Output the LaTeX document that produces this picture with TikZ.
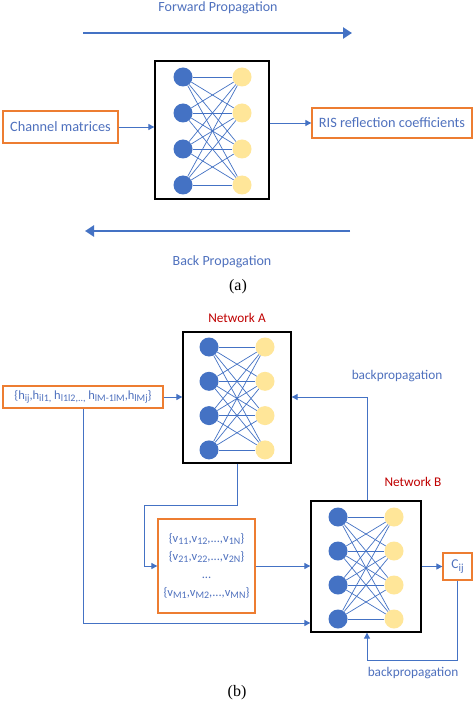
\documentclass[tikz,border=0pt]{standalone}
\usepackage{fontspec}
\setmainfont{Carlito}
\newfontfamily\serifcap{Liberation Serif}
\usetikzlibrary{arrows.meta}
\definecolor{lblue}{HTML}{4472C4}
\definecolor{tblue}{HTML}{4F71BE}
\definecolor{lyel}{HTML}{FFE699}
\definecolor{lorange}{HTML}{ED7D31}
\definecolor{dred}{HTML}{C00000}
\newcommand\sbx[1]{\raisebox{-0.35ex}{\scalebox{0.8}{#1}}}
\newcommand\drawnet[5]{%
  \foreach \i in {1,...,4}{%
    \node[bnode] (#1b\i) at (#2,{#4+(\i-1)*#5}) {};
    \node[ynode] (#1y\i) at (#3,{#4+(\i-1)*#5}) {};
  }
  \foreach \i in {1,...,4}{\foreach \j in {1,...,4}{\draw[nnline] (#1b\i) -- (#1y\j);}}
}
\begin{document}
\begin{tikzpicture}[x=1pt,y=-1pt,
  bnode/.style={circle,fill=lblue,inner sep=0pt,minimum size=19pt},
  ynode/.style={circle,fill=lyel,inner sep=0pt,minimum size=19pt},
  nnline/.style={draw=lblue,line width=0.7pt},
  netframe/.style={draw=black,line width=1.3pt,fill=white,inner sep=0pt},
  obox/.style={draw=lorange,line width=1.3pt,fill=white,inner sep=2pt,text=tblue},
  conn/.style={draw=lblue,line width=0.9pt,-{Triangle[length=6pt,width=6pt]}},
  bigarrow/.style={draw=lblue,line width=2.6pt,-{Triangle[length=9pt,width=11pt]}},
  lbl/.style={text=tblue,font=\fontsize{14}{16}\selectfont},
  lblb/.style={text=tblue,font=\fontsize{13.3}{15}\selectfont},
  netlbl/.style={text=dred,font=\fontsize{13.3}{15}\selectfont},
  captxt/.style={font=\serifcap\fontsize{16}{18}\selectfont}
]
\useasboundingbox[fill=white] (0,0) rectangle (474,703);

% ---------------- (a) ----------------
\node[lbl] (fwdtxt) at (218,8) {Forward Propagation};
\coordinate (f1) at (83,33);
\coordinate (f2) at (352,33);
\draw[bigarrow] (f1) -- (f2);

\node[netframe,minimum width=114pt,minimum height=138pt] (NN) at (212,130) {};
\drawnet{n}{183}{242}{77}{36}

\node[obox,minimum width=115pt,minimum height=32pt,font=\fontsize{14.3}{16}\selectfont] (CM) at (60.5,127) {Channel matrices};
\node[obox,minimum width=160pt,minimum height=30pt,font=\fontsize{14.3}{16}\selectfont] (RIS) at (392,123) {RIS reflection coefficients};
\draw[conn] (CM.east) -- (CM.east -| NN.west);
\draw[conn] (NN.east |- RIS.west) -- (RIS.west);

\coordinate (b1) at (350,231);
\coordinate (b2) at (85,231);
\draw[bigarrow] (b1) -- (b2);
\node[lbl] (bcktxt) at (222,262) {Back Propagation};
\node[captxt] (capa) at (238,287) {(a)};

% ---------------- (b) ----------------
\node[netlbl] (NAlbl) at (237,318) {Network A};
\node[netframe,minimum width=108pt,minimum height=131pt] (NA) at (237,397.5) {};
\drawnet{a}{209}{265}{347}{34.3}

\node[obox,minimum width=160pt,minimum height=22pt,font=\fontsize{12.5}{14}\selectfont] (H) at (83,397)
  {\{h\sbx{ij},h\sbx{il1,} h\sbx{l1l2,..,} h\sbx{lM-1lM},h\sbx{lMj}\}};
\draw[conn] (H.east) -- (H.east -| NA.west);

\node[netlbl] (NBlbl) at (413,482) {Network B};
\node[netframe,minimum width=110pt,minimum height=131pt] (NB) at (366,566.5) {};
\drawnet{b}{338}{394}{517}{34}

\node[obox,minimum width=97pt,minimum height=94pt,align=center,font=\fontsize{12.5}{18}\selectfont] (V) at (206.5,566)
  {\{v\sbx{11},v\sbx{12},...,v\sbx{1N}\}\\
   \{v\sbx{21},v\sbx{22},...,v\sbx{2N}\}\\
   ...\\
   \{v\sbx{M1},v\sbx{M2},...,v\sbx{MN}\}};

\node[obox,minimum width=29pt,minimum height=27pt,font=\fontsize{13.5}{15}\selectfont] (C) at (457.5,566.5) {C\sbx{ij}};

% connectors
\coordinate (hdn) at (83,623);
\draw[conn] (H.south) -- (hdn) -- (hdn -| NB.west);

\coordinate (ad1) at (237,505);
\coordinate (ad2) at (144,505);
\draw[conn] (NA.south) -- (ad1) -- (ad2) -- (ad2 |- V.west) -- (V.west);

\draw[conn] (V.east) -- (V.east -| NB.west);

\coordinate (bu1) at (367,397);
\draw[conn] (bu1 |- NB.north) -- (bu1) -- (bu1 -| NA.east);
\node[lblb] (bp1) at (397,376) {backpropagation};

\draw[conn] (NB.east |- C.west) -- (C.west);

\coordinate (cd1) at (457,660);
\coordinate (cd2) at (367,660);
\draw[conn] (C.south -| cd1) -- (cd1) -- (cd2) -- (cd2 |- NB.south);
\node[lblb] (bp2) at (413,673) {backpropagation};

\node[captxt] (capb) at (237,693) {(b)};
\end{tikzpicture}
\end{document}
